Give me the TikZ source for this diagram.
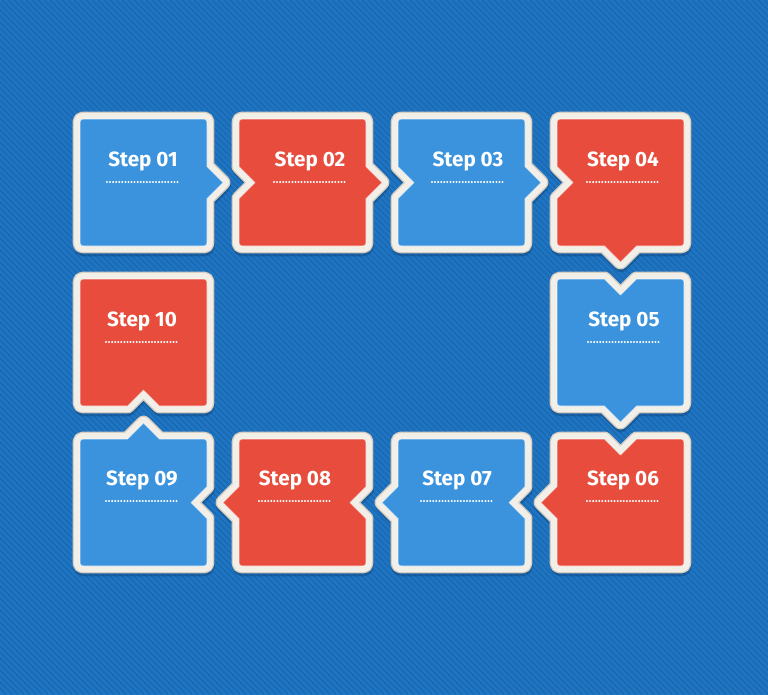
\documentclass[tikz,border=0pt]{standalone}
\usepackage{fontspec}
\setmainfont{Fira Sans}
\usetikzlibrary{calc}
\definecolor{bgblue}{HTML}{1F78C6}
\definecolor{stripec}{HTML}{1B6BB5}
\definecolor{tileblue}{HTML}{3A93DC}
\definecolor{tilered}{HTML}{E74C3C}
\definecolor{cream}{HTML}{F2EEE8}
\definecolor{creamdark}{HTML}{D3CBBF}
\definecolor{shadowc}{HTML}{0B3A6B}
\newif\ifshadowpass
\newcommand\steptile[7]{%
  \pgfmathsetmacro\ax{#1+7}\pgfmathsetmacro\bx{#1+134}%
  \pgfmathsetmacro\cy{#2+7}\pgfmathsetmacro\dy{#2+134}%
  \pgfmathsetmacro\mx{#1+70.5}\pgfmathsetmacro\my{#2+70.5}%
  \pgfmathsetmacro\tT{\cy-(#4)*16}\pgfmathsetmacro\tR{\bx+(#5)*16}%
  \pgfmathsetmacro\tB{\dy+(#6)*16}\pgfmathsetmacro\tL{\ax-(#7)*16}%
  \def\tilepath{(\ax,{\cy+7}) .. controls (\ax,\cy) .. ({\ax+7},\cy)
    -- ({\mx-16},\cy) -- (\mx,\tT) -- ({\mx+16},\cy)
    -- ({\bx-7},\cy) .. controls (\bx,\cy) .. (\bx,{\cy+7})
    -- (\bx,{\my-16}) -- (\tR,\my) -- (\bx,{\my+16})
    -- (\bx,{\dy-7}) .. controls (\bx,\dy) .. ({\bx-7},\dy)
    -- ({\mx+16},\dy) -- (\mx,\tB) -- ({\mx-16},\dy)
    -- ({\ax+7},\dy) .. controls (\ax,\dy) .. (\ax,{\dy-7})
    -- (\ax,{\my+16}) -- (\tL,\my) -- (\ax,{\my-16}) -- cycle}%
  \ifshadowpass
    \path[tileshadow] \tilepath;
  \else
    \path[tilebody, fill=#3] \tilepath;
  \fi}
\newcommand\alltiles{%
  \steptile{73}{112}{tileblue}{0}{1}{0}{0}%
  \steptile{232}{112}{tilered}{0}{1}{0}{-1}%
  \steptile{391}{112}{tileblue}{0}{1}{0}{-1}%
  \steptile{550}{112}{tilered}{0}{0}{1}{-1}%
  \steptile{550}{272}{tileblue}{-1}{0}{1}{0}%
  \steptile{550}{432}{tilered}{-1}{0}{0}{1}%
  \steptile{391}{432}{tileblue}{0}{-1}{0}{1}%
  \steptile{232}{432}{tilered}{0}{-1}{0}{1}%
  \steptile{73}{432}{tileblue}{1}{-1}{0}{0}%
  \steptile{73}{272}{tilered}{0}{0}{-1}{0}}
\begin{document}
\begin{tikzpicture}[x=0.75pt,y=-0.75pt,
  tileshadow/.style={line join=round, draw=shadowc, draw opacity=0.35,
    line width=11pt, transform canvas={shift={(0.5,3)}}},
  tilebody/.style={line join=round,
    preaction={draw=creamdark, line width=11.2pt, line join=round},
    preaction={draw=cream, line width=9.2pt, line join=round},
    postaction={draw=white, draw opacity=0.45, line width=0.8pt}},
  steplabel/.style={text=white, anchor=base, inner sep=0pt,
    font=\fontsize{15.5}{18}\selectfont\bfseries},
  dotline/.style={white, line width=1.7pt, line cap=round, dash pattern=on 0pt off 2.3pt}]
\useasboundingbox (0,0) rectangle (768,694);
\fill[bgblue] (-5,-5) rectangle (773,699);
\begin{scope}
  \clip (-2,-2) rectangle (770,696);
  \foreach \k in {-700,-694,...,770} {
    \draw[stripec, line width=1.6pt] (\k,0) -- ({\k+694},694);
  }
\end{scope}
\shadowpasstrue
\alltiles
\shadowpassfalse
\alltiles
\node[steplabel] (s1) at (143,166) {Step 01};
\node[steplabel] (s2) at (310,166) {Step 02};
\node[steplabel] (s3) at (468,166) {Step 03};
\node[steplabel] (s4) at (623,166) {Step 04};
\node[steplabel] (s5) at (624,326) {Step 05};
\node[steplabel] (s6) at (623,485) {Step 06};
\node[steplabel] (s7) at (457,485) {Step 07};
\node[steplabel] (s8) at (295,485) {Step 08};
\node[steplabel] (s9) at (142,485) {Step 09};
\node[steplabel] (s10) at (142,326) {Step 10};
\foreach \s in {s1,s2,s3,s4,s5,s6,s7,s8,s9,s10} {
  \draw[dotline] ($(\s.base)+(-36,16)$) -- ($(\s.base)+(36,16)$);
}
\end{tikzpicture}
\end{document}
